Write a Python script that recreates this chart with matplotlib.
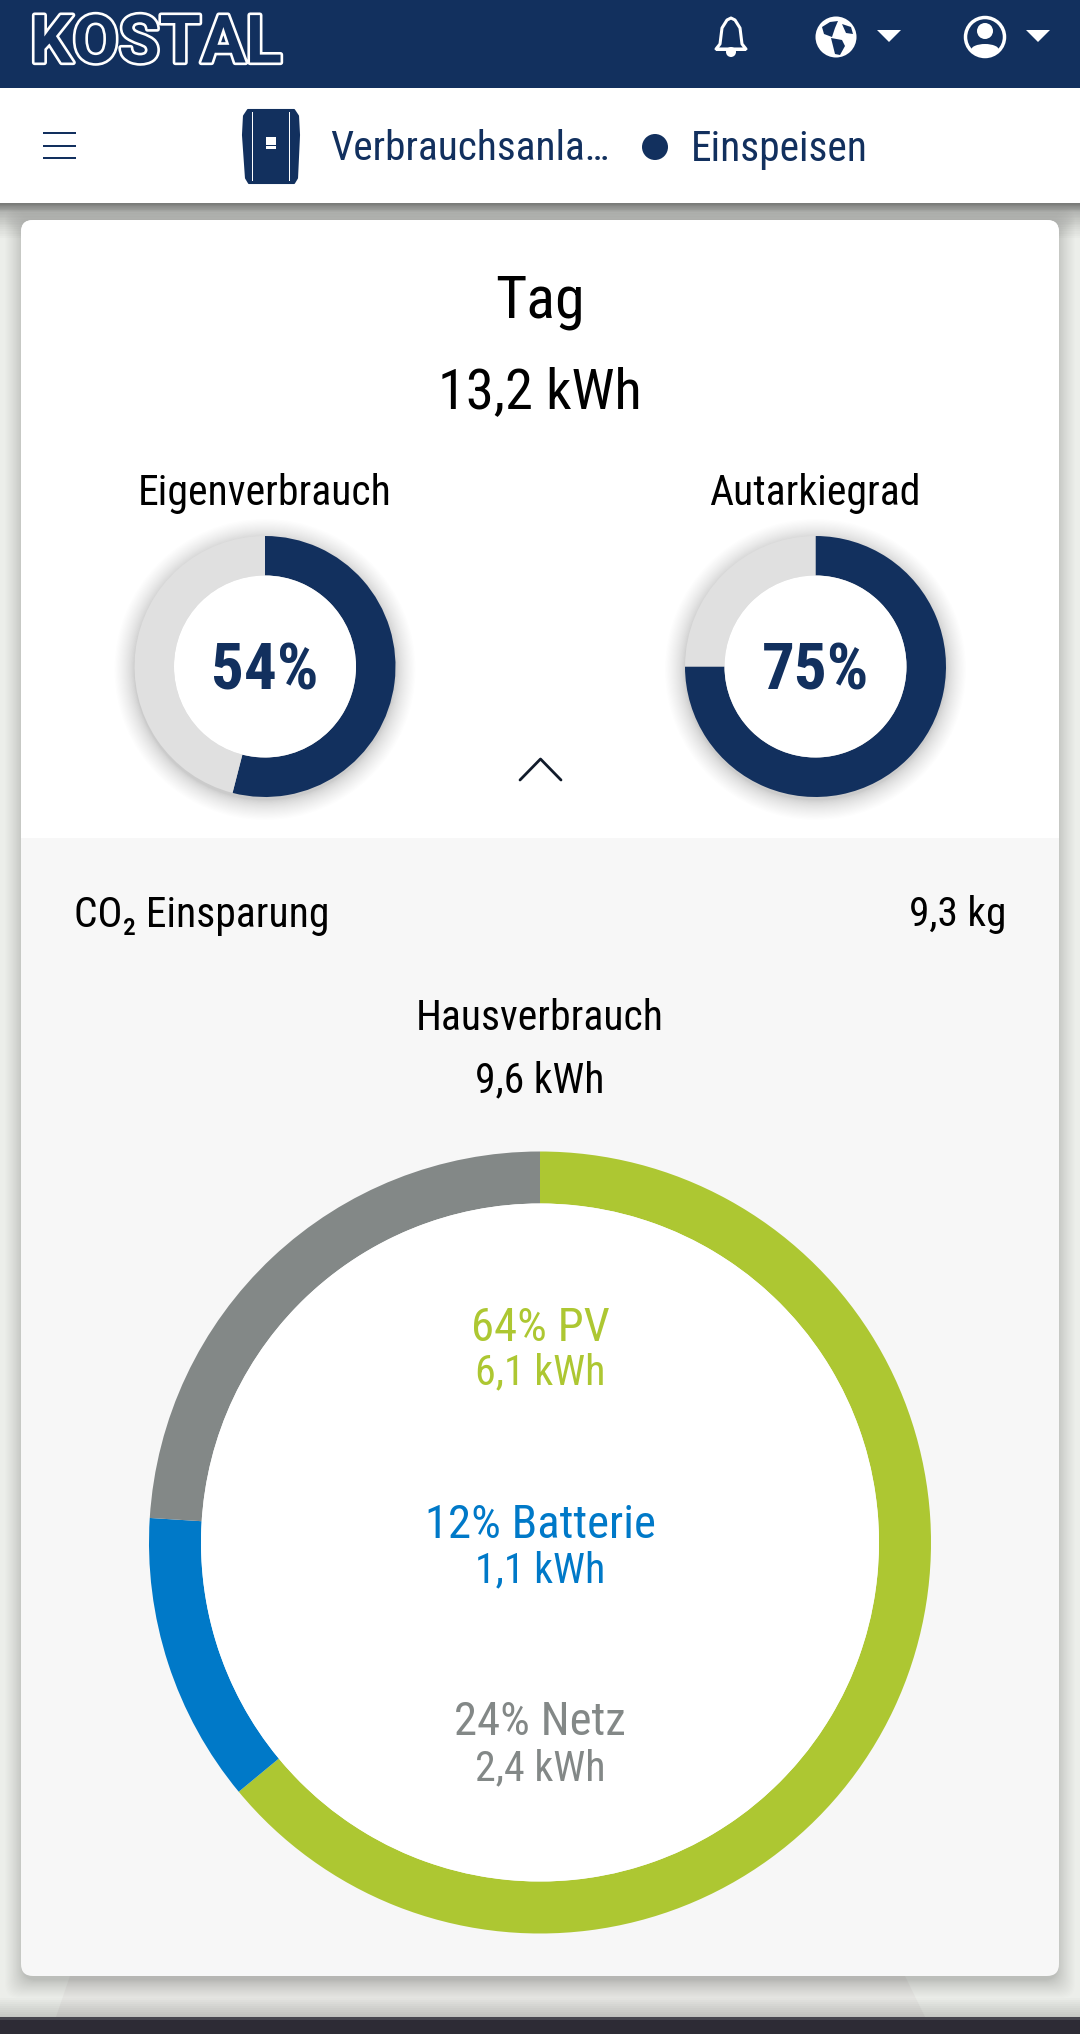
import matplotlib
matplotlib.use("Agg")
import matplotlib.pyplot as plt
from matplotlib.patches import Circle, Rectangle, FancyBboxPatch, Polygon, Ellipse
import matplotlib.patheffects as pe

# ---- data -----
self_use_values = [54, 46]
autarky_values = [75, 25]
house_values = [64, 12, 24]
house_labels = ["64% PV", "12% Batterie", "24% Netz"]
house_kwh = ["6,1 kWh", "1,1 kWh", "2,4 kWh"]

NAVY = "#12305e"; GREEN = "#adc732"; BLUE = "#0079c8"; GREY = "#838887"; LIGHT = "#e0e0e0"
PANEL = "#f7f7f7"
house_colors = [GREEN, BLUE, GREY]

W, H = 1080, 2034
COND = ["Roboto Condensed", "Roboto", "DejaVu Sans"]
plt.rcParams["font.family"] = COND

fig = plt.figure(figsize=(W/100, H/100), dpi=100, facecolor="#eceeea")
bg = fig.add_axes([0, 0, 1, 1])
bg.set_xlim(0, W); bg.set_ylim(H, 0); bg.axis("off")

def rect(x0, y0, x1, y1, c, z=1, a=1.0):
    bg.add_patch(Rectangle((x0, y0), x1-x0, y1-y0, fc=c, ec="none", zorder=z, alpha=a))

def txt(x, y, s, size, c="black", ha="center", weight="normal", z=10):
    return bg.text(x, y, s, fontsize=size*0.72, color=c, ha=ha, va="center", weight=weight,
                   family=COND, zorder=z)

# page background
bg.add_patch(Polygon([(70, 1976), (905, 1976), (925, 2017), (56, 2017)], fc="#e6e6e3", ec="none", zorder=1))

# card shadow
N = 24
for i in range(N):
    g = 18*(1 - i/N)**1.4
    bg.add_patch(FancyBboxPatch((21-g+2, 220-g+5), 1038+2*g-4, 1756+2*g-1,
                                boxstyle="round,pad=0,rounding_size=14", fc="black", ec="none",
                                alpha=0.0095, zorder=2))
# card
bg.add_patch(FancyBboxPatch((21, 220), 1038, 1756, boxstyle="round,pad=0,rounding_size=12",
                            fc=PANEL, ec="none", zorder=3))
bg.add_patch(FancyBboxPatch((21, 220), 1038, 640, boxstyle="round,pad=0,rounding_size=12",
                            fc="white", ec="none", zorder=3))
rect(21, 838, 1059, 900, PANEL, z=3)

# header shadow
N = 24
for i in range(N):
    rect(0, 203, W, 203 + 1 + 34*(1 - i/N)**1.6, "black", z=2.5, a=0.016)
for i in range(10):
    rect(0, 203, W, 203 + 1 + 8*(1 - i/10), "black", z=4, a=0.02)

# bottom dark bar + its shadow
for i in range(10):
    rect(0, 2017 - 1 - i*2.0, W, 2017, "black", z=1.5, a=0.016)
rect(0, 2017, W, 2034, "#2d2b35", z=6)
rect(0, 2017, W, 2020, "#45444d", z=6)

# bars
rect(0, 88, W, 203, "white", z=5)
rect(0, 0, W, 88, NAVY, z=6)

# logo
bg.text(156, 44.5, "KOSTAL", fontsize=48, family=["Roboto", "DejaVu Sans"], weight="bold", color=NAVY,
        ha="center", va="center", zorder=8,
        path_effects=[pe.withStroke(linewidth=3.8, foreground="white")])

# bell
bg.add_patch(Polygon([(716, 49), (720, 44), (722, 28), (727, 20), (731, 18), (735, 20), (740, 28), (742, 44), (746, 49)],
                     fc="none", ec="white", lw=2.2, zorder=8, joinstyle="round"))
bg.add_patch(Circle((731, 52), 5, fc="white", ec="none", zorder=8))
rect(716, 48, 746, 50.5, "white", z=8)

# globe
bg.add_patch(Circle((836, 37), 20.5, fc="white", ec="none", zorder=8))
bg.add_patch(Polygon([(822, 27), (830, 22), (838, 21), (835, 28), (832, 37), (824, 34)], fc=NAVY, ec="none", zorder=9))
bg.add_patch(Polygon([(831, 38), (842, 40), (845, 46), (840, 55), (835, 54), (833, 46)], fc=NAVY, ec="none", zorder=9))
bg.add_patch(Polygon([(842, 24), (851, 27), (853, 34), (846, 33)], fc=NAVY, ec="none", zorder=9))

# user
bg.add_patch(Circle((985, 37), 19.5, fc=NAVY, ec="white", lw=2.5, zorder=8))
bg.add_patch(Circle((985, 31), 8, fc="white", ec="none", zorder=9))
bg.add_patch(Ellipse((985, 50), 28, 12, fc="white", ec="none", zorder=9))

# carets
for x in (889, 1038):
    bg.add_patch(Polygon([(x-12, 30), (x+12, 30), (x, 42)], fc="white", ec="none", zorder=8))

# hamburger
for y in (133, 146, 158):
    rect(43, y-1.3, 76, y+1.3, NAVY, z=8)

# device
bg.add_patch(Polygon([(248, 110), (294, 110), (298, 116), (299, 135), (297, 178), (294, 183), (249, 183), (246, 178), (243, 135), (244, 116)],
                     fc=NAVY, ec=NAVY, lw=1.5, joinstyle="round", zorder=8))
rect(252, 112, 253, 181, "white", z=9); rect(289, 112, 290, 181, "white", z=9)
rect(266, 137, 276, 149, "white", z=9); rect(266, 144.5, 276, 146, NAVY, z=9.5)

txt(330, 149, "Verbrauchsanla…", 41.4, NAVY, ha="left")
bg.add_patch(Circle((655, 147), 13, fc=NAVY, ec="none", zorder=8))
txt(691, 149, "Einspeisen", 41.5, NAVY, ha="left")

# titles
txt(540, 302, "Tag", 60)
txt(540, 393, "13,2 kWh", 56.5)
txt(265, 494, "Eigenverbrauch", 41.7)
txt(815, 494, "Autarkiegrad", 41.8)
bg.plot([520, 540.5, 561], [780, 759, 780], color="#111b2b", lw=2, solid_capstyle="round", zorder=10)

txt(74, 915, "CO₂ Einsparung", 41.6, ha="left")
txt(1006, 915, "9,3 kg", 41.2, ha="right")
txt(540, 1019, "Hausverbrauch", 41.6)
txt(540, 1081, "9,6 kWh", 41.6)

def donut(cx, cy, r, rin, values, colors, shadow):
    if shadow:
        N = 26
        for i in range(N):
            bg.add_patch(Circle((cx, cy+3), r+20*(1 - i/N)**1.6, fc="black", ec="none", alpha=0.009, zorder=3.5))
    ax = fig.add_axes([(cx-r)/W, 1-(cy+r)/H, 2*r/W, 2*r/H], zorder=5)
    ax.pie(values, colors=colors, startangle=90, counterclock=False, radius=1,
           wedgeprops=dict(width=1-rin/r, linewidth=0))
    ax.add_patch(Circle((0, 0), rin/r, fc="white", ec="none", zorder=1))
    ax.set_xlim(-1, 1); ax.set_ylim(-1, 1); ax.axis("off")
    ax.patch.set_alpha(0)
    return ax

txtax = fig.add_axes([0, 0, 1, 1], zorder=8)
txtax.set_xlim(0, W); txtax.set_ylim(H, 0); txtax.axis("off"); txtax.patch.set_alpha(0)

donut(265, 666.5, 130.5, 91, self_use_values, [NAVY, LIGHT], True)
donut(815.5, 666.5, 130.5, 91, autarky_values, [NAVY, LIGHT], True)
donut(540, 1542.5, 391, 339, house_values, house_colors, False)

for s, cx in [(f"{self_use_values[0]}%", 265), (f"{autarky_values[0]}%", 815.5)]:
    txtax.text(cx, 672, s, fontsize=65*0.72, color=NAVY, ha="center", va="center", weight="bold", family=COND)

ys = [(1328, 1373), (1525, 1571), (1722, 1769)]
for (y1, y2), lab, kwh, c in zip(ys, house_labels, house_kwh, house_colors):
    txtax.text(540, y1, lab, fontsize=46.8*0.72, color=c, ha="center", va="center", family=COND)
    txtax.text(540, y2, kwh, fontsize=42*0.72, color=c, ha="center", va="center", family=COND)

fig.savefig("out.png", dpi=100, facecolor=fig.get_facecolor())
